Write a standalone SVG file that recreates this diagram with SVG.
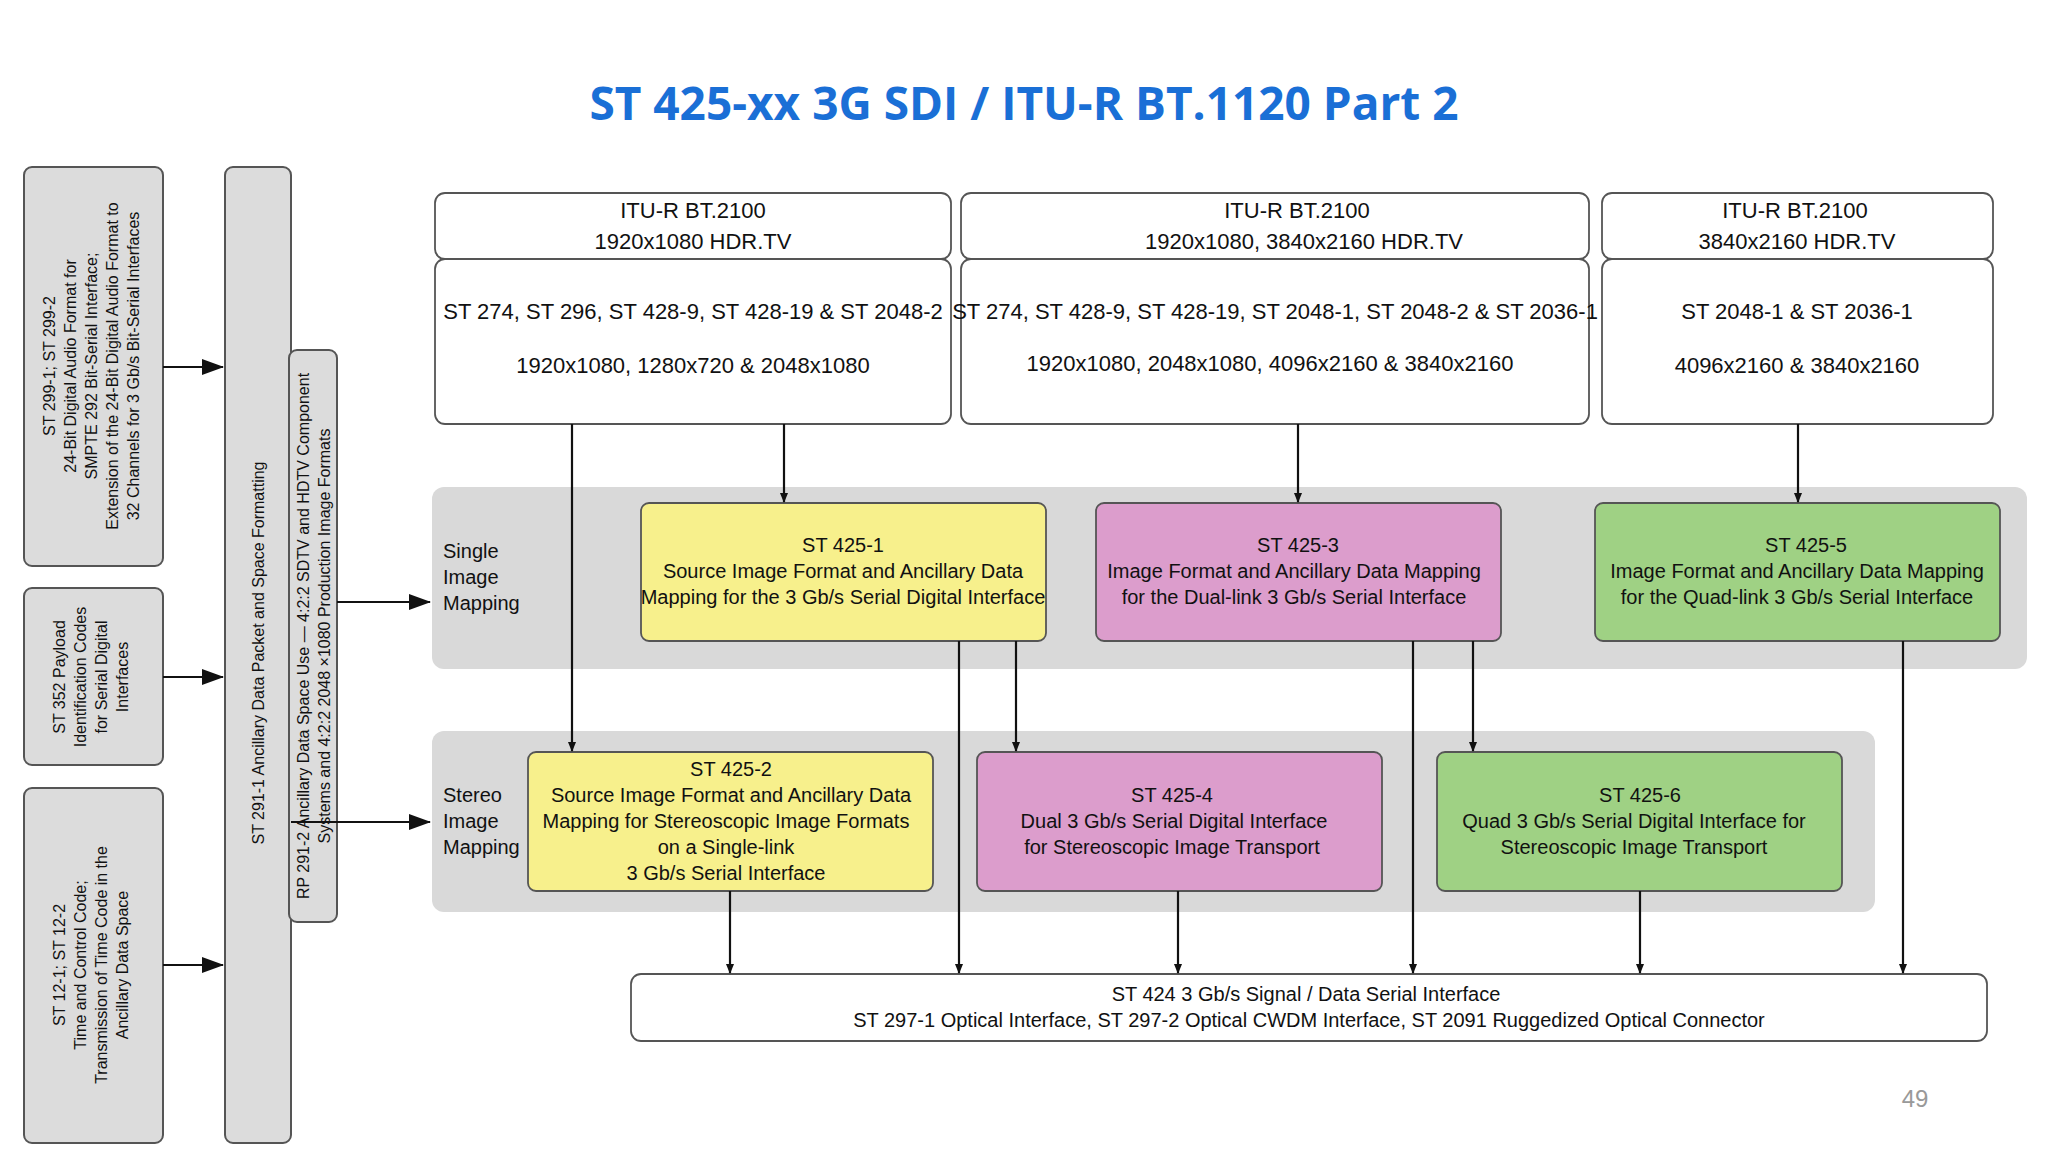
<svg xmlns="http://www.w3.org/2000/svg" width="2048" height="1152" viewBox="0 0 2048 1152">
<style>
text{font-family:"Liberation Sans",Arial,sans-serif;fill:#111;}
.t{font-size:20px;text-anchor:middle;}
.h{font-size:22px;text-anchor:middle;}
.s{font-size:16px;text-anchor:middle;}
.l{font-size:20px;}
.g{fill:#dcdcdc;stroke:#555;stroke-width:2;}
.w{fill:#fff;stroke:#555;stroke-width:1.8;}
.y{fill:#f7f08c;stroke:#555;stroke-width:1.8;}
.p{fill:#dc9dcc;stroke:#555;stroke-width:1.8;}
.n{fill:#9fd184;stroke:#555;stroke-width:1.8;}
.band{fill:#d9d9d9;}
.c line{stroke:#111;stroke-width:2.2;marker-end:url(#a);}
</style>
<defs><marker id="a" markerWidth="10" markerHeight="8" refX="9" refY="4" orient="auto" markerUnits="userSpaceOnUse" viewBox="0 0 10 8"><path d="M0,0L10,4L0,8z" fill="#111"/></marker>
<marker id="b" markerWidth="22" markerHeight="16" refX="21" refY="8" orient="auto" markerUnits="userSpaceOnUse" viewBox="0 0 22 16"><path d="M0,0L22,8L0,16z" fill="#111"/></marker></defs>
<rect width="2048" height="1152" fill="#fff"/>
<text x="1024" y="120" style="font-size:46px;font-weight:bold;fill:#1a6fd6;text-anchor:middle;font-family:'Open Sans','Liberation Sans',sans-serif">ST 425-xx 3G SDI / ITU-R BT.1120 Part 2</text>
<rect class="band" x="432" y="487" width="1595" height="182" rx="12"/>
<rect class="band" x="432" y="731" width="1443" height="181" rx="12"/>
<text class="l" x="443" y="558">Single</text><text class="l" x="443" y="584">Image</text><text class="l" x="443" y="610">Mapping</text>
<text class="l" x="443" y="802">Stereo</text><text class="l" x="443" y="828">Image</text><text class="l" x="443" y="854">Mapping</text>
<g id="boxA"><rect class="g" x="24" y="167" width="139" height="399" rx="8"/>
<text class="s" transform="translate(93,366) rotate(-90)"><tspan x="0" y="-38">ST 299-1; ST 299-2</tspan><tspan x="0" y="-17">24-Bit Digital Audio Format for</tspan><tspan x="0" y="4">SMPTE  292 Bit-Serial Interface;</tspan><tspan x="0" y="25">Extension of the 24-Bit Digital Audio Format to</tspan><tspan x="0" y="46">32 Channels for 3 Gb/s Bit-Serial Interfaces</tspan></text></g>
<g id="boxB"><rect class="g" x="24" y="588" width="139" height="177" rx="8"/>
<text class="s" transform="translate(93,677) rotate(-90)"><tspan x="0" y="-28">ST 352 Payload</tspan><tspan x="0" y="-7">Identification Codes</tspan><tspan x="0" y="14">for Serial Digital</tspan><tspan x="0" y="35">Interfaces</tspan></text></g>
<g id="boxC"><rect class="g" x="24" y="788" width="139" height="355" rx="8"/>
<text class="s" transform="translate(93,965) rotate(-90)"><tspan x="0" y="-28">ST 12-1; ST 12-2</tspan><tspan x="0" y="-7">Time and Control Code;</tspan><tspan x="0" y="14">Transmission of Time Code in the</tspan><tspan x="0" y="35">Ancillary Data Space</tspan></text></g>
<g id="st291"><rect class="g" x="225" y="167" width="66" height="976" rx="8"/>
<text class="s" transform="translate(264,653) rotate(-90)"><tspan x="0" y="0">ST 291-1 Ancillary Data Packet and Space Formatting</tspan></text></g>
<g id="rp291"><rect class="g" x="289" y="350" width="48" height="572" rx="8"/>
<text class="s" transform="translate(313,636) rotate(-90)"><tspan x="0" y="-4">RP 291-2 Ancillary Data Space Use — 4:2:2 SDTV and HDTV Component</tspan><tspan x="0" y="17">Systems and 4:2:2 2048 ×1080 Production Image Formats</tspan></text></g>
<g id="top1"><rect class="w" x="435" y="193" width="516" height="66" rx="10"/><rect class="w" x="435" y="259" width="516" height="165" rx="10"/>
<text class="h" x="693" y="218">ITU-R BT.2100</text><text class="h" x="693" y="249">1920x1080 HDR.TV</text>
<text class="h" x="693" y="319">ST 274, ST 296, ST 428-9, ST 428-19 &amp; ST 2048-2</text><text class="h" x="693" y="373">1920x1080, 1280x720 &amp; 2048x1080</text></g>
<g id="top2"><rect class="w" x="961" y="193" width="628" height="66" rx="10"/><rect class="w" x="961" y="259" width="628" height="165" rx="10"/>
<text class="h" x="1297" y="218">ITU-R BT.2100</text><text class="h" x="1304" y="249">1920x1080, 3840x2160  HDR.TV</text>
<text class="h" x="1275" y="319">ST 274, ST 428-9, ST 428-19, ST 2048-1, ST 2048-2 &amp; ST 2036-1</text><text class="h" x="1270" y="371">1920x1080, 2048x1080, 4096x2160 &amp; 3840x2160</text></g>
<g id="top3"><rect class="w" x="1602" y="193" width="391" height="66" rx="10"/><rect class="w" x="1602" y="259" width="391" height="165" rx="10"/>
<text class="h" x="1795" y="218">ITU-R BT.2100</text><text class="h" x="1797" y="249">3840x2160  HDR.TV</text>
<text class="h" x="1797" y="319">ST 2048-1 &amp; ST 2036-1</text><text class="h" x="1797" y="373">4096x2160 &amp; 3840x2160</text></g>
<g id="st4251"><rect class="y" x="641" y="503" width="405" height="138" rx="8"/>
<text class="t" x="843" y="552">ST 425-1</text><text class="t" x="843" y="578">Source Image Format and Ancillary Data</text><text class="t" x="843" y="604">Mapping for the 3 Gb/s Serial Digital Interface</text></g>
<g id="st4253"><rect class="p" x="1096" y="503" width="405" height="138" rx="8"/>
<text class="t" x="1298" y="552">ST 425-3</text><text class="t" x="1294" y="578">Image Format and Ancillary Data Mapping</text><text class="t" x="1294" y="604">for the Dual-link 3 Gb/s Serial Interface</text></g>
<g id="st4255"><rect class="n" x="1595" y="503" width="405" height="138" rx="8"/>
<text class="t" x="1806" y="552">ST 425-5</text><text class="t" x="1797" y="578">Image Format and Ancillary Data Mapping</text><text class="t" x="1797" y="604">for the Quad-link 3 Gb/s Serial Interface</text></g>
<g id="st4252"><rect class="y" x="528" y="752" width="405" height="139" rx="8"/>
<text class="t" x="731" y="776">ST 425-2</text><text class="t" x="731" y="802">Source Image Format and Ancillary Data</text><text class="t" x="726" y="828">Mapping for Stereoscopic Image Formats</text><text class="t" x="726" y="854">on a Single-link</text><text class="t" x="726" y="880">3 Gb/s Serial Interface</text></g>
<g id="st4254"><rect class="p" x="977" y="752" width="405" height="139" rx="8"/>
<text class="t" x="1172" y="802">ST 425-4</text><text class="t" x="1174" y="828">Dual 3 Gb/s Serial Digital Interface</text><text class="t" x="1172" y="854">for Stereoscopic Image Transport</text></g>
<g id="st4256"><rect class="n" x="1437" y="752" width="405" height="139" rx="8"/>
<text class="t" x="1640" y="802">ST 425-6</text><text class="t" x="1634" y="828">Quad 3 Gb/s Serial Digital Interface for</text><text class="t" x="1634" y="854">Stereoscopic Image Transport</text></g>
<g id="st424"><rect class="w" x="631" y="974" width="1356" height="67" rx="10"/>
<text class="t" x="1306" y="1001">ST 424 3 Gb/s Signal / Data Serial Interface</text><text class="t" x="1309" y="1027">ST 297-1 Optical Interface, ST 297-2 Optical CWDM Interface, ST 2091 Ruggedized Optical Connector</text></g>
<g id="connectors" class="c">
<line x1="163" y1="367" x2="223" y2="367" style="marker-end:url(#b)"/>
<line x1="163" y1="677" x2="223" y2="677" style="marker-end:url(#b)"/>
<line x1="163" y1="965" x2="223" y2="965" style="marker-end:url(#b)"/>
<line x1="337" y1="602" x2="430" y2="602" style="marker-end:url(#b)"/>
<line x1="291" y1="822" x2="430" y2="822" style="marker-end:url(#b)"/>
<line x1="572" y1="424" x2="572" y2="751"/>
<line x1="784" y1="424" x2="784" y2="502"/>
<line x1="1298" y1="424" x2="1298" y2="502"/>
<line x1="1798" y1="424" x2="1798" y2="502"/>
<line x1="959" y1="641" x2="959" y2="973"/>
<line x1="1016" y1="641" x2="1016" y2="751"/>
<line x1="1413" y1="641" x2="1413" y2="973"/>
<line x1="1473" y1="641" x2="1473" y2="751"/>
<line x1="1903" y1="641" x2="1903" y2="973"/>
<line x1="730" y1="891" x2="730" y2="973"/>
<line x1="1178" y1="891" x2="1178" y2="973"/>
<line x1="1640" y1="891" x2="1640" y2="973"/>
</g>
<text x="1915" y="1107" style="font-size:24px;fill:#999;text-anchor:middle">49</text>
</svg>
